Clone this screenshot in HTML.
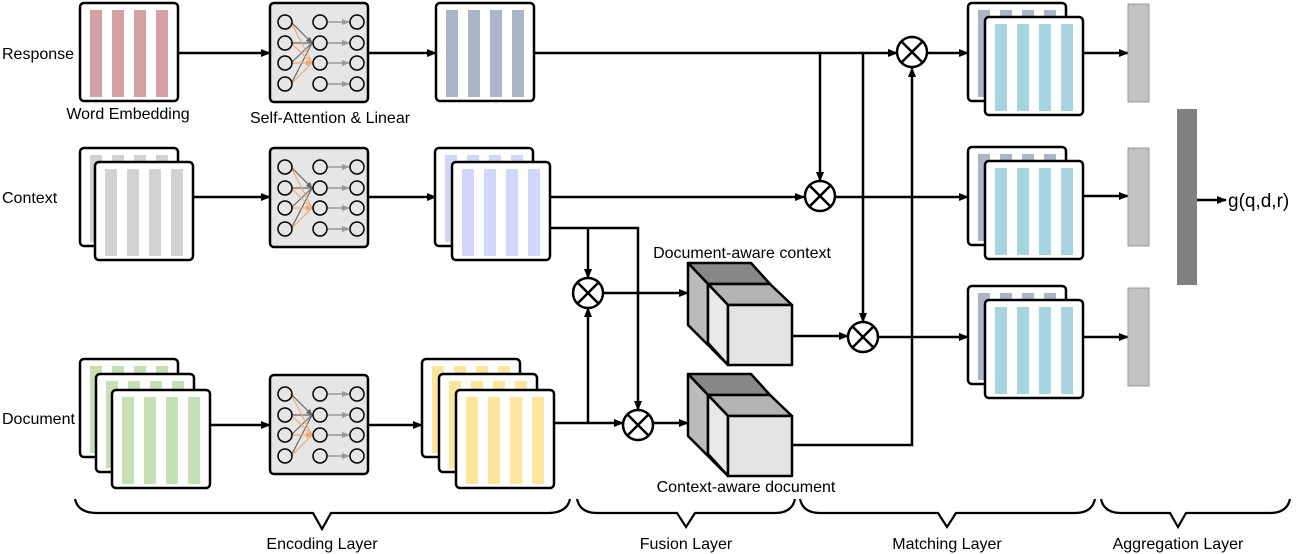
<!DOCTYPE html>
<html><head><meta charset="utf-8"><style>
html,body{margin:0;padding:0;background:#fff;}
svg{display:block;}
text{font-family:"Liberation Sans",sans-serif;fill:#000;}
</style></head><body>
<svg width="1296" height="554" viewBox="0 0 1296 554" xmlns="http://www.w3.org/2000/svg">
<defs>
<marker id="ah" markerWidth="10" markerHeight="10" refX="9" refY="5" orient="auto" markerUnits="userSpaceOnUse">
<path d="M0,1 L10,5 L0,9 Z" fill="#000"/></marker>
<marker id="ag" markerWidth="8" markerHeight="8" refX="7" refY="4" orient="auto" markerUnits="userSpaceOnUse">
<path d="M0,1 L8,4 L0,7 Z" fill="#999"/></marker>
<marker id="ad" markerWidth="7" markerHeight="7" refX="6" refY="3.5" orient="auto" markerUnits="userSpaceOnUse">
<path d="M0,0.5 L7,3.5 L0,6.5 Z" fill="#666"/></marker>
<marker id="ao" markerWidth="7" markerHeight="7" refX="6" refY="3.5" orient="auto" markerUnits="userSpaceOnUse">
<path d="M0,0.5 L7,3.5 L0,6.5 Z" fill="#f4a870"/></marker>
<g id="bars"><rect x="10" y="7" width="12" height="87"/><rect x="32" y="7" width="12" height="87"/><rect x="54" y="7" width="12" height="87"/><rect x="76" y="7" width="12" height="87"/></g>
<g id="fr"><rect x="0" y="0" width="98" height="98" rx="4" fill="#fff" stroke="#000" stroke-width="2.5"/><use href="#bars"/></g>
<g id="sa">
<rect x="0" y="0" width="98" height="99" rx="4" fill="#e6e6e6" stroke="#000" stroke-width="2.5"/>
<g fill="none" stroke-width="1.2">
<line x1="21" y1="19" x2="42" y2="40" stroke="#666" marker-end="url(#ad)"/>
<line x1="21" y1="60" x2="42" y2="40" stroke="#666"/>
<line x1="21" y1="81" x2="42" y2="40" stroke="#666"/>
<line x1="21" y1="40" x2="42" y2="40" stroke="#666"/>
<line x1="21" y1="19" x2="42" y2="60" stroke="#f4a870"/>
<line x1="21" y1="40" x2="42" y2="60" stroke="#f4a870"/>
<line x1="21" y1="60" x2="42" y2="60" stroke="#f4a870" marker-end="url(#ao)"/>
<line x1="21" y1="81" x2="42" y2="60" stroke="#f4a870"/>
</g>
<g stroke="#999" stroke-width="1.5">
<line x1="57" y1="19" x2="79" y2="19" marker-end="url(#ag)"/>
<line x1="57" y1="40" x2="79" y2="40" marker-end="url(#ag)"/>
<line x1="57" y1="60" x2="79" y2="60" marker-end="url(#ag)"/>
<line x1="57" y1="81" x2="79" y2="81" marker-end="url(#ag)"/>
</g>
<g fill="none" stroke="#000" stroke-width="1.5">
<circle cx="15" cy="19" r="7"/><circle cx="15" cy="40" r="7"/><circle cx="15" cy="60" r="7"/><circle cx="15" cy="81" r="7"/>
<circle cx="50" cy="19" r="7"/><circle cx="50" cy="40" r="7"/><circle cx="50" cy="60" r="7"/><circle cx="50" cy="81" r="7"/>
<circle cx="87" cy="19" r="7"/><circle cx="87" cy="40" r="7"/><circle cx="87" cy="60" r="7"/><circle cx="87" cy="81" r="7"/>
</g>
</g>
<g id="ox"><circle cx="0" cy="0" r="15" fill="#fff" stroke="#000" stroke-width="2.5"/><line x1="-10.6" y1="-10.6" x2="10.6" y2="10.6" stroke="#000" stroke-width="2.5"/><line x1="-10.6" y1="10.6" x2="10.6" y2="-10.6" stroke="#000" stroke-width="2.5"/></g>
<g id="cube" stroke="#000" stroke-width="2.5" stroke-linejoin="round">
<polygon points="0,0 63,0 82,21 20,21" fill="#888"/>
<polygon points="0,0 20,21 20,80 40,102 0,62" fill="#bbb"/>
<polygon points="20,21 82,21 104,42 40,42" fill="#b3b3b3"/>
<polygon points="20,21 40,42 40,102 20,80" fill="#e8e8e8"/>
<rect x="40" y="42" width="64" height="60" fill="#e4e4e4"/>
</g>
</defs>

<!-- connectors -->
<g stroke="#000" stroke-width="2.5" fill="none">
<line x1="178" y1="53" x2="270" y2="53" marker-end="url(#ah)"/>
<line x1="368" y1="53" x2="436" y2="53" marker-end="url(#ah)"/>
<line x1="535" y1="53" x2="897" y2="53" marker-end="url(#ah)"/>
<line x1="193" y1="197" x2="270" y2="197" marker-end="url(#ah)"/>
<line x1="368" y1="197" x2="436" y2="197" marker-end="url(#ah)"/>
<line x1="551" y1="197" x2="804" y2="197" marker-end="url(#ah)"/>
<line x1="211" y1="425" x2="270" y2="425" marker-end="url(#ah)"/>
<line x1="368" y1="425" x2="422" y2="425" marker-end="url(#ah)"/>
<line x1="555" y1="423" x2="623" y2="423" marker-end="url(#ah)"/>
<polyline points="551,228 638,228 638,410" marker-end="url(#ah)"/>
<line x1="588" y1="228" x2="588" y2="278" marker-end="url(#ah)"/>
<line x1="588" y1="423" x2="588" y2="308" marker-end="url(#ah)"/>
<line x1="603" y1="293" x2="688" y2="293" marker-end="url(#ah)"/>
<line x1="653" y1="423" x2="688" y2="423" marker-end="url(#ah)"/>
<line x1="820" y1="53" x2="820" y2="181" marker-end="url(#ah)"/>
<line x1="863" y1="53" x2="863" y2="322" marker-end="url(#ah)"/>
<line x1="792" y1="336" x2="848" y2="336" marker-end="url(#ah)"/>
<polyline points="792,445 912,445 912,68" marker-end="url(#ah)"/>
<line x1="927" y1="53" x2="968" y2="53" marker-end="url(#ah)"/>
<line x1="835" y1="197" x2="968" y2="197" marker-end="url(#ah)"/>
<line x1="878" y1="337" x2="968" y2="337" marker-end="url(#ah)"/>
<line x1="1083" y1="53" x2="1128" y2="53" marker-end="url(#ah)"/>
<line x1="1083" y1="196" x2="1128" y2="196" marker-end="url(#ah)"/>
<line x1="1083" y1="337" x2="1128" y2="337" marker-end="url(#ah)"/>
<line x1="1197" y1="200" x2="1226" y2="200" marker-end="url(#ah)"/>
</g>

<!-- Response -->
<use href="#fr" x="80" y="3" fill="#d4a0a4"/>
<use href="#sa" x="270" y="3"/>
<use href="#fr" x="436" y="3" fill="#aab6c8"/>
<!-- Context -->
<use href="#fr" x="80" y="148" fill="#d2d2d2"/>
<use href="#fr" x="95" y="162" fill="#d2d2d2"/>
<use href="#sa" x="270" y="148"/>
<use href="#fr" x="435" y="148" fill="#d2d6fa"/>
<use href="#fr" x="452" y="162" fill="#d2d6fa"/>
<!-- Document -->
<use href="#fr" x="80" y="359" fill="#c6e0b6"/>
<use href="#fr" x="96" y="374" fill="#c6e0b6"/>
<use href="#fr" x="112" y="390" fill="#c6e0b6"/>
<use href="#sa" x="270" y="375"/>
<use href="#fr" x="422" y="359" fill="#fde59a"/>
<use href="#fr" x="439" y="374" fill="#fde59a"/>
<use href="#fr" x="456" y="390" fill="#fde59a"/>

<!-- fusion -->
<use href="#ox" x="588" y="293"/>
<use href="#ox" x="638" y="425"/>
<use href="#cube" x="688" y="263"/>
<use href="#cube" x="688" y="374"/>
<use href="#ox" x="912" y="52"/>
<use href="#ox" x="820" y="196"/>
<use href="#ox" x="863" y="337"/>

<!-- matching -->
<use href="#fr" x="968" y="3" fill="#aab6c8"/>
<use href="#fr" x="985" y="17" fill="#a6d4e0"/>
<use href="#fr" x="968" y="147" fill="#aab6c8"/>
<use href="#fr" x="985" y="161" fill="#a6d4e0"/>
<use href="#fr" x="968" y="286" fill="#aab6c8"/>
<use href="#fr" x="985" y="300" fill="#a6d4e0"/>

<!-- aggregation -->
<rect x="1128" y="4" width="21" height="98" fill="#c2c2c2" stroke="#999" stroke-width="1"/>
<rect x="1128" y="148" width="21" height="98" fill="#c2c2c2" stroke="#999" stroke-width="1"/>
<rect x="1128" y="288" width="21" height="98" fill="#c2c2c2" stroke="#999" stroke-width="1"/>
<rect x="1177" y="109" width="20" height="176" fill="#808080"/>

<!-- braces -->
<g fill="none" stroke="#000" stroke-width="2.2">
<path d="M75,499 Q78,513 97,513 L313,513 L322,529 L331,513 L548,513 Q567,513 570,499"/>
<path d="M577,499 Q580,513 597,513 L677,513 L686,527 L695,513 L775,513 Q792,513 795,499"/>
<path d="M800,499 Q803,513 820,513 L938,513 L947,527 L956,513 L1075,513 Q1092,513 1095,499"/>
<path d="M1101,499 Q1104,513 1121,513 L1170,513 L1178,527 L1186,513 L1270,513 Q1287,513 1290,499"/>
</g>

<!-- text -->
<g font-size="16">
<text x="2" y="59">Response</text>
<text x="2" y="203">Context</text>
<text x="2" y="424">Document</text>
<text x="128" y="119" text-anchor="middle">Word Embedding</text>
<text x="330" y="123" text-anchor="middle">Self-Attention &amp; Linear</text>
<text x="742" y="258" text-anchor="middle">Document-aware context</text>
<text x="746" y="492" text-anchor="middle">Context-aware document</text>
<text x="322" y="549" text-anchor="middle">Encoding Layer</text>
<text x="686" y="549" text-anchor="middle">Fusion Layer</text>
<text x="947" y="549" text-anchor="middle">Matching Layer</text>
<text x="1178" y="549" text-anchor="middle">Aggregation Layer</text>
<text x="1228" y="207" font-size="19">g(q,d,r)</text>
</g>
</svg>
</body></html>
